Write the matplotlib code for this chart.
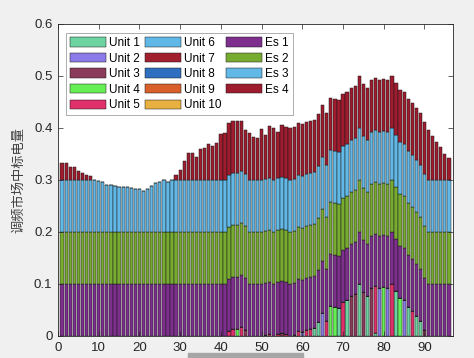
import numpy as np
import matplotlib
matplotlib.use('Agg')
import matplotlib.pyplot as plt
from matplotlib.patches import Rectangle

plt.rcParams['font.family'] = ['Liberation Sans', 'Noto Sans CJK SC', 'DejaVu Sans']

# ── Data (96 periods) ─────────────────────────────────────────────────────────
periods = np.arange(1, 97)

# units: only non-zero periods listed {period: value}
unit1 = {63: 0.016, 64: 0.026, 69: 0.053, 71: 0.069, 74: 0.100, 76: 0.077,
         78: 0.006, 83: 0.087, 86: 0.056, 88: 0.038, 89: 0.028}
unit2 = {51: 0.002, 58: 0.001, 60: 0.007, 65: 0.044, 79: 0.093, 81: 0.092, 85: 0.070}
unit3 = {46: 0.011, 55: 0.005, 72: 0.077, 73: 0.080, 75: 0.085, 77: 0.093, 90: 0.012}
unit4 = {44: 0.014, 67: 0.057, 68: 0.056, 80: 0.095, 84: 0.073}
unit5 = {42: 0.009, 43: 0.013, 45: 0.017, 52: 0.003, 54: 0.003, 56: 0.003, 59: 0.009,
         61: 0.011, 62: 0.013, 66: 0.029, 70: 0.066, 78: 0.090, 82: 0.100, 87: 0.048}
unit6 = {}
unit7 = {}
unit8 = {}
unit9 = {}
unit10 = {}

es1 = [0.100] * 96
es2 = [0.100] * 96
es3 = ([0.100, 0.100, 0.100, 0.100, 0.100, 0.100, 0.100, 0.100,
        0.100, 0.098, 0.096, 0.091, 0.091, 0.089, 0.087, 0.087, 0.087, 0.085,
        0.083, 0.082, 0.079, 0.083, 0.089, 0.094, 0.097, 0.100, 0.097, 0.100]
       + [0.100] * 68)
es4 = ([0.033, 0.033, 0.025, 0.025, 0.017, 0.013, 0.010, 0.007]
       + [0.0] * 20
       + [0.010, 0.020, 0.037, 0.052, 0.052, 0.045, 0.060, 0.062, 0.069, 0.065,
          0.071, 0.088, 0.090]
       + [0.100, 0.100, 0.100, 0.097, 0.086, 0.090, 0.082, 0.080, 0.099, 0.085,
          0.100, 0.100, 0.090, 0.100, 0.098, 0.100, 0.100]
       + [0.100] * 32
       + [0.097, 0.084, 0.074, 0.063, 0.050, 0.042])

labels = ['Unit 1', 'Unit 2', 'Unit 3', 'Unit 4', 'Unit 5',
          'Unit 6', 'Unit 7', 'Unit 8', 'Unit 9', 'Unit 10',
          'Es 1', 'Es 2', 'Es 3', 'Es 4']

COLORS = ['#6DD3A0', '#8A7BE8', '#8B3A5A', '#66EE55', '#E0306A',
          '#5FB8E6', '#A0202F', '#2E6FBF', '#D9602A', '#E8B040',
          '#7E2F8E', '#77AC30', '#62B8E6', '#9E1C2E']


def to_series(d):
    s = np.zeros(len(periods))
    for k, v in d.items():
        s[k - 1] = v
    return s


layers = [to_series(u) for u in (unit1, unit2, unit3, unit4, unit5,
                                 unit6, unit7, unit8, unit9, unit10)]
layers += [np.array(es1), np.array(es2), np.array(es3), np.array(es4)]

# ── Plot ──────────────────────────────────────────────────────────────────────
fig = plt.figure(figsize=(4.74, 3.58), dpi=100)
fig.patch.set_facecolor('#F0F0F0')
ax = fig.add_axes([58 / 474, 22 / 358, 395 / 474, 312 / 358])
ax.set_facecolor('white')

bottom = np.zeros(len(periods))
for vals, lab, col in zip(layers, labels, COLORS):
    ax.bar(periods, vals, width=0.8, bottom=bottom, color=col,
           edgecolor='#1a1a1a', linewidth=0.35, label=lab)
    bottom += vals

ax.set_xlim(0, 97)
ax.set_ylim(0, 0.6)
ax.set_xticks(np.arange(0, 91, 10))
ax.set_yticks(np.arange(0, 0.61, 0.1))
ax.set_yticklabels(['0', '0.1', '0.2', '0.3', '0.4', '0.5', '0.6'])
ax.tick_params(direction='in', top=True, right=True, length=3.5, width=0.5,
               labelsize=9.5, colors='#262626', pad=4)
for sp in ax.spines.values():
    sp.set_color('#262626')
    sp.set_linewidth(0.6)

ax.set_ylabel('调频市场中标电量', fontsize=9.5, color='#404040',
              family=['Noto Sans CJK SC'], labelpad=6)

leg = ax.legend(ncol=3, loc='upper left', bbox_to_anchor=(0.02, 0.971),
                borderaxespad=0, fontsize=8.5, handlelength=3.05,
                handleheight=0.85, handletextpad=0.25, columnspacing=0.42,
                labelspacing=0.3, borderpad=0.35, fancybox=False,
                framealpha=1, edgecolor='#A0A0A0')
leg.get_frame().set_linewidth(0.6)

# grey strip at the bottom of the screenshot
fig.patches.append(Rectangle((188 / 474, 0), 115 / 474, 5 / 358,
                             transform=fig.transFigure, color='#A6A6A6'))

plt.savefig('out.png', dpi=100, facecolor=fig.get_facecolor())
